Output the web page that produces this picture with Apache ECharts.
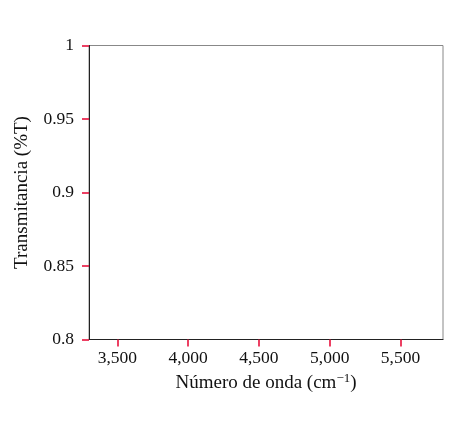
<!DOCTYPE html>
<html><head><meta charset="utf-8">
<script src="https://cdn.jsdelivr.net/npm/echarts@6/dist/echarts.min.js"></script>
<style>html,body{margin:0;padding:0;background:#fff}#c{width:474px;height:423px}</style>
</head><body><div id="c"></div>
<script>
const xTicks = [3500, 4000, 4500, 5000, 5500];
const yTicks = [0.8, 0.85, 0.9, 0.95, 1];
const seriesX = [];
const seriesY = [];
const xRange = [3300, 5800];
const yRange = [0.8, 1];
const xTitle = 'Número de onda (cm{sup|−1})';
const yTitle = 'Transmitancia (%T)';

const font = 'Liberation Serif';
const tickColor = '#e8103c';
const chart = echarts.init(document.getElementById('c'), null, {renderer: 'canvas'});
chart.setOption({
  animation: false,
  grid: {left: 89, right: 31, top: 45.5, bottom: 83.5, show: true, borderColor: '#888', borderWidth: 1, backgroundColor: 'transparent'},
  xAxis: {
    type: 'value', min: xRange[0], max: xRange[1],
    name: xTitle, nameLocation: 'middle', nameGap: 33,
    nameTextStyle: {fontFamily: font, fontSize: 19, color: '#111', rich: {sup: {fontFamily: font, fontSize: 13, color: '#111', verticalAlign: 'top', padding: [0,0,9,0]}}},
    axisLine: {show: true, lineStyle: {color: '#222', width: 1}},
    axisTick: {show: true, inside: false, length: 7, customValues: xTicks, lineStyle: {color: tickColor, width: 1.6}},
    axisLabel: {customValues: xTicks, margin: 10, fontFamily: font, fontSize: 17.5, color: '#111',
      formatter: v => v.toLocaleString('en-US')},
    splitLine: {show: false}
  },
  yAxis: {
    type: 'value', min: yRange[0], max: yRange[1],
    name: yTitle, nameLocation: 'middle', nameGap: 57,
    nameTextStyle: {fontFamily: font, fontSize: 19, color: '#111'},
    axisLine: {show: true, lineStyle: {color: '#222', width: 1}},
    axisTick: {show: true, inside: false, length: 7, customValues: yTicks, lineStyle: {color: tickColor, width: 1.6}},
    axisLabel: {customValues: yTicks, margin: 15, fontFamily: font, fontSize: 17.5, color: '#111',
      formatter: v => String(+v.toFixed(2))},
    splitLine: {show: false}
  },
  series: [{type: 'line', data: seriesX.map((x, i) => [x, seriesY[i]]), showSymbol: false}]
});
</script></body></html>
